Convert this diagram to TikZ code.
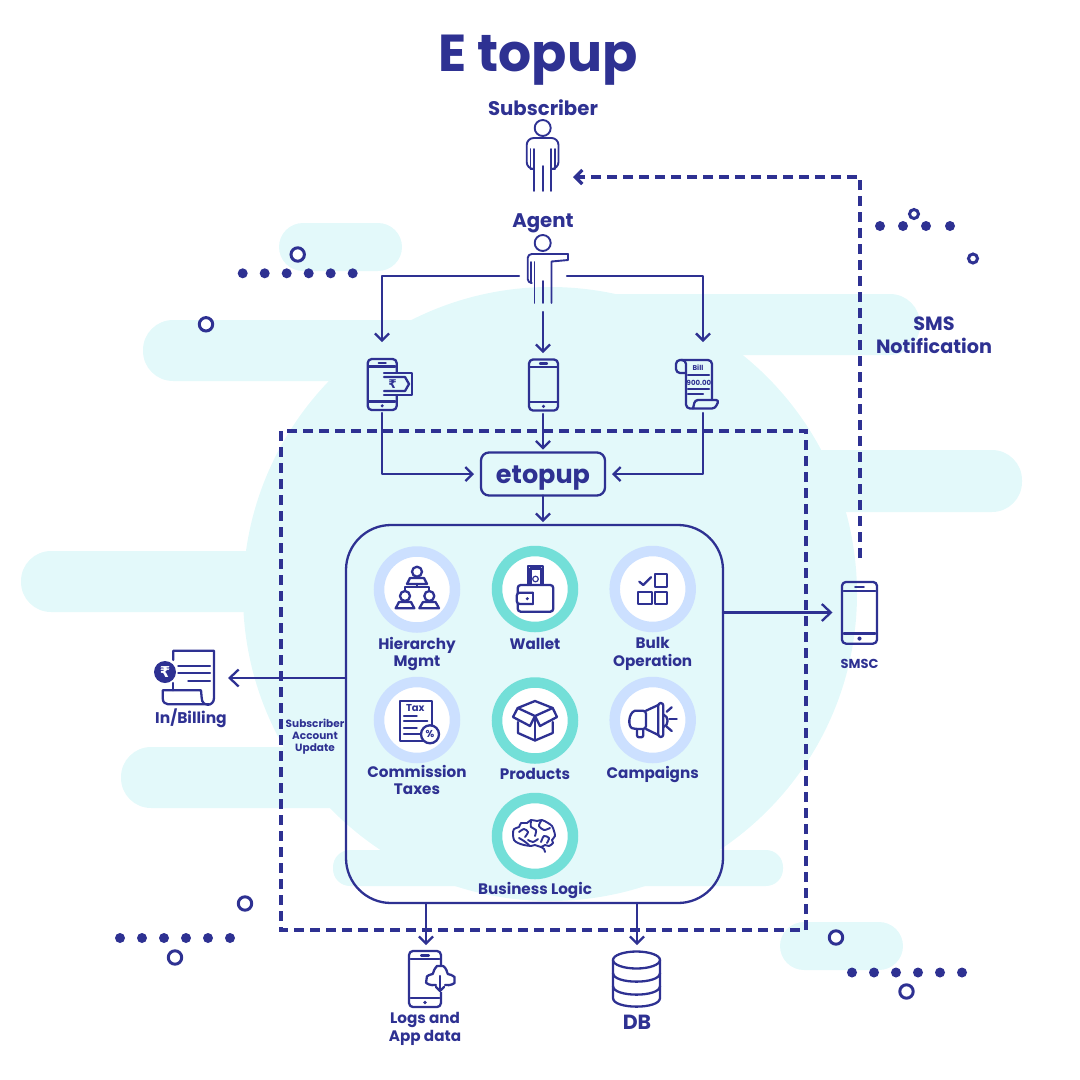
\documentclass[tikz,border=0pt]{standalone}
\usepackage{fontspec}
\setmainfont{Poppins}
\newfontfamily\symfont{DejaVu Sans}
\usetikzlibrary{arrows.meta}

\definecolor{navy}{HTML}{2E3192}
\definecolor{blob}{HTML}{E3F9FA}
\definecolor{ringblue}{HTML}{CCE0FF}
\definecolor{ringteal}{HTML}{73DFD8}

\newcommand{\labelsize}[2]{\bfseries\fontsize{#1}{#2}\selectfont}

\tikzset{
    lab/.style={text=navy, align=center, inner sep=0pt, font=\labelsize{15.2}{17.8}},
    hold/.style={inner sep=0pt, outer sep=0pt},
    line/.style={navy, line width=2.3pt, line cap=round, line join=round},
    figure/.style={navy, line width=1.9pt, line cap=round, line join=round},
    flow/.style={line, -{Straight Barb[length=7pt,width=14pt,line width=2.3pt]}},
    sideflow/.style={line, -{Straight Barb[length=9pt,width=17pt,line width=2.3pt]}},
    box/.style={dash pattern=on 10pt off 6pt, navy, line width=3.2pt},
    backfill/.style={fill=blob, rounded corners=#1},
    bluering/.style={draw=ringblue, fill=white, line width=10.5pt},
    tealring/.style={draw=ringteal, fill=white, line width=10.5pt},
    rounddot/.style={fill=navy},
    hollowdot/.style={draw=navy, fill=white, line width=3pt},
    handset/.pic={
        \draw[line, rounded corners=4pt] (-14.5,-25.5) rectangle (14.5,25.5);
        \draw[line] (-13,-18) -- (13,-18);
        \draw[line] (-3.5,-21.5) -- (3.5,-21.5);
        \draw[line] (-13,17) -- (13,17);
        \fill[navy] (0,21.3) circle [radius=1.7];
    }
}

\begin{document}
\begin{tikzpicture}[x=1pt, y=-1pt]
            \useasboundingbox (0,0) rectangle (1080,1080);

            \fill[blob] (550,594) circle [radius=307];
            \fill[backfill=24pt] (279,223) rectangle (402,271);
            \fill[backfill=30pt] (143,320) rectangle (470,381);
            \fill[backfill=30pt] (590,294) rectangle (920,355);
            \fill[backfill=30pt] (770,450) rectangle (1022,512);
            \fill[backfill=30pt] (21,551) rectangle (310,612);
            \fill[backfill=30pt] (121,747) rectangle (410,808);
            \fill[backfill=17pt] (333,850) rectangle (783,886);
            \fill[backfill=24pt] (780,922) rectangle (903,970);

            \fill[rounddot] (242.7,273.3) circle [radius=5] (264.7,273.3) circle [radius=5] (286.7,273.3) circle [radius=5] (308.7,273.3) circle [radius=5] (330.7,273.3) circle [radius=5] (352.7,273.3) circle [radius=5];
            \fill[rounddot] (880,226) circle [radius=5] (903,226) circle [radius=5] (926,226) circle [radius=5] (950,226) circle [radius=5];
            \fill[rounddot] (120,938) circle [radius=5] (142,938) circle [radius=5] (164,938) circle [radius=5] (186,938) circle [radius=5] (208,938) circle [radius=5] (230,938) circle [radius=5];
            \fill[rounddot] (852,972.5) circle [radius=5] (874,972.5) circle [radius=5] (896,972.5) circle [radius=5] (918,972.5) circle [radius=5] (940,972.5) circle [radius=5] (962,972.5) circle [radius=5];
            \draw[hollowdot] (297.7,254.5) circle [radius=6.7];
            \draw[hollowdot] (206,324.3) circle [radius=6.7];
            \draw[hollowdot] (914,214) circle [radius=4.5];
            \draw[hollowdot] (973,258.5) circle [radius=4.5];
            \draw[hollowdot] (245,903.5) circle [radius=6.7];
            \draw[hollowdot] (175,957.5) circle [radius=6.7];
            \draw[hollowdot] (836,937.5) circle [radius=6.7];
            \draw[hollowdot] (906.5,991.5) circle [radius=6.7];

            \node[lab, font=\labelsize{52}{52}] (title) at (538,60) {E topup};
            \node[lab, font=\labelsize{19.7}{22}] (sublabel) at (543,108) {Subscriber};
            \node[lab, font=\labelsize{19.7}{22}] (agentlabel) at (543,223) {Agent};
            \node[lab, font=\labelsize{19.2}{23}] (smslabel) at (934,335) {SMS\\Notification};

            \node[hold, minimum width=60pt, minimum height=28pt] (subscriber) at (543,177) {};
            \node[hold, minimum width=48pt, minimum height=72pt] (agent) at (543,276) {};
            \node[hold, minimum width=58pt, minimum height=71pt] (paying) at (382,377.5) {};
            \node[hold, minimum width=29pt, minimum height=61pt] (phone) at (543,383.5) {};
            \node[hold, minimum width=44pt, minimum height=71pt] (bill) at (703,377.5) {};
            \node[draw=navy, line width=2.3pt, rounded corners=8pt, text=navy, inner sep=0pt, outer xsep=7pt, outer ysep=0pt, minimum width=124pt, minimum height=43pt, text height=23pt, text depth=5pt, font=\labelsize{25.5}{27}] (etopup) at (543,474) {etopup};
            \node[draw=navy, line width=2.3pt, rounded corners=45pt, inner sep=0pt, outer sep=0pt, minimum width=377pt, minimum height=378pt] (platform) at (534.5,714) {};
            \node[hold, minimum width=55pt, minimum height=109pt] (smsc) at (860,612.5) {};
            \node[hold, minimum width=74pt, minimum height=56pt] (billing) at (191,678) {};
            \node[hold, minimum width=34pt, minimum height=62pt] (logs) at (426,976) {};
            \node[hold, minimum width=48pt, minimum height=62pt] (db) at (637,976) {};

            \draw[box] (281,431) rectangle (806,930);

            \draw[flow] (agent.west) -| (paying.north);
            \draw[flow] (agent.south) -- (phone.north);
            \draw[flow] (agent.east) -| (bill.north);
            \draw[flow] (paying.south) |- (etopup.west);
            \draw[flow, shorten >=3pt] (phone.south) -- (etopup.north);
            \draw[flow] (bill.south) |- (etopup.east);
            \draw[flow, shorten >=3pt] (etopup.south) -- (etopup.south |- platform.north);
            \draw[sideflow] (smsc.west -| platform.east) -- (smsc.west);
            \draw[sideflow] (platform.west |- billing.east) -- (billing.east);
            \draw[flow] (logs.north |- platform.south) -- (logs.north);
            \draw[flow] (db.north |- platform.south) -- (db.north);
            \draw[box, -{Straight Barb[length=7pt,width=14pt,line width=3.2pt]}] (smsc.north) |- (subscriber.east);

            \draw[figure] (542.7,128) circle [radius=8];
            \draw[figure, rounded corners=7pt] (530.5,169) -- (526.7,169) -- (526.7,138) -- (558.5,138) -- (558.5,169) -- (554.7,169);
            \draw[figure] (530.5,149) -- (530.5,169);
            \draw[figure] (554.7,149) -- (554.7,169);
            \draw[figure] (534,149) -- (534,191);
            \draw[figure] (542.7,166) -- (542.7,191);
            \draw[figure] (551.3,149) -- (551.3,191);

            \draw[figure] (542.7,243) circle [radius=8];
            \draw[figure, rounded corners=4pt] (531,283) -- (527.7,283) -- (527.7,254) -- (568,254);
            \draw[figure] (568,254) -- (568,260) -- (551.5,261.5) -- (551.5,303);
            \draw[figure] (531,262) -- (531,283);
            \draw[figure] (534.5,262) -- (534.5,303);
            \draw[figure] (542.7,281) -- (542.7,303);

            \pic at (382.2,384.5) {handset};
            \fill[blob] (384,374) rectangle (398,394);
            \draw[line] (384,373) -- (411.7,373) -- (411.7,395) -- (384,395);
            \draw[line] (384,377) -- (405,377) -- (409,384) -- (405,391) -- (384,391);
            \node[lab, font=\symfont\bfseries\fontsize{12}{12}\selectfont] (rupeenote) at (392.5,384) {₹};

            \pic at (543.5,385) {handset};

            \draw[line, rounded corners=4pt] (686,373) -- (676,373) -- (676,360) -- (712,360) -- (712,400);
            \draw[line, rounded corners=4pt] (681,360) -- (686,360) -- (686,408.5) -- (693,408.5);
            \draw[line, rounded corners=3pt] (693,408.5) -- (715,408.5) -- (719,400) -- (695,400) -- (693,408.5);
            \draw[line] (688,375) -- (709,375);
            \draw[line] (688,389) -- (709,389);
            \draw[line] (688,394) -- (703,394);
            \node[lab, font=\labelsize{7}{7}] (billword) at (698,368) {Bill};
            \node[lab, font=\labelsize{7}{7}] (billsum) at (699,383) {900.00};

            \pic[scale=1.21] at (859.5,612.8) {handset};
            \node[lab, font=\labelsize{13}{13}] (smsclabel) at (859.5,663.5) {SMSC};

            \draw[line] (173.3,660) -- (173.3,650.7) -- (214,650.7) -- (214,698) .. controls (214,707) and (201.7,707) .. (201.7,698) -- (201,690.3) -- (162.7,690.3) -- (162.7,698) .. controls (162.7,702) and (165,704.3) .. (168,704.3) -- (209,704.3);
            \draw[line] (173.3,683) -- (173.3,690.3);
            \draw[line] (178.3,665.7) -- (210,665.7);
            \draw[line] (178.3,673.3) -- (210,673.3);
            \draw[line] (188.3,681) -- (210,681);
            \fill[navy] (165,672) circle [radius=11];
            \node[text=white, inner sep=0pt, font=\symfont\bfseries\fontsize{15}{15}\selectfont] (rupeecoin) at (165,672) {₹};
            \node[lab, font=\labelsize{15.5}{20}] (billinglabel) at (191,718) {In/Billing};

            \node[lab, font=\labelsize{10.5}{12}] (accountlabel) at (315,737) {Subscriber\\Account\\Update};

            \draw[bluering] (417,589.5) circle [radius=38];
            \draw[tealring] (535,589) circle [radius=38];
            \draw[bluering] (652.7,589) circle [radius=38];
            \draw[bluering] (417,720) circle [radius=38];
            \draw[tealring] (535,720.5) circle [radius=38];
            \draw[bluering] (652.7,720) circle [radius=38];
            \draw[tealring] (535,836) circle [radius=38];

            \draw[line] (417,571.7) circle [radius=5];
            \draw[line] (410,578) -- (424,578) -- (427,584) -- (407,584) -- cycle;
            \draw[line] (417,584) -- (417,587);
            \draw[line] (405,591) -- (405,587) -- (429.3,587) -- (429.3,591);
            \draw[line] (405,596) circle [radius=5];
            \draw[line] (429.3,596) circle [radius=5];
            \draw[line] (399,602) -- (411,602) -- (414.3,608.3) -- (395.7,608.3) -- cycle;
            \draw[line] (423,602) -- (435.5,602) -- (439,608.3) -- (419.3,608.3) -- cycle;

            \draw[line] (528.3,585) -- (528.3,565.7) -- (543.3,565.7) -- (543.3,585);
            \draw[line] (530.5,585) -- (530.5,568.5) -- (541,568.5) -- (541,585);
            \draw[line, line width=1.2pt] (535.5,579) circle [radius=2.8];
            \draw[line, rounded corners=3pt] (517.7,592.7) -- (517.7,585) -- (553.3,585) -- (553.3,611.7) -- (517.7,611.7) -- (517.7,604);
            \draw[line, rounded corners=3pt] (532.7,592.7) -- (516.7,592.7) -- (516.7,604) -- (532.7,604);
            \draw[line] (532.7,592.7) -- (532.7,604);
            \fill[navy] (527.3,598.7) circle [radius=1.7];

            \draw[line] (639.3,581.7) -- (643.3,585) -- (651,577.3);
            \draw[line] (655,574.3) rectangle (667.3,587.3);
            \draw[line] (638.3,591.7) rectangle (651.7,604);
            \draw[line] (655,591.7) rectangle (667.3,604);

            \draw[line] (400,701) rectangle (431.7,740.7);
            \draw[line] (404,716) -- (416.7,716);
            \draw[line] (404,720.7) -- (427.3,720.7);
            \draw[line] (404,728.3) -- (416.7,728.3);
            \draw[line] (404,734) -- (420,734);
            \draw[line, fill=white] (430,734.3) circle [radius=9];
            \node[lab, font=\labelsize{10}{10}] (taxword) at (415.3,708.5) {Tax};
            \node[lab, font=\labelsize{10}{10}] (percent) at (430,734.3) {\%};

            \draw[line] (517.7,708) -- (535,701) -- (552.7,708) -- (535,716) -- cycle;
            \draw[line] (517.7,708) -- (513,717) -- (530,726) -- (535,716) -- (540,726) -- (557,717) -- (552.7,708);
            \draw[line] (518,722) -- (518,733) -- (535,740.5) -- (552.7,733) -- (552.7,722);
            \draw[line] (535,716) -- (535,740.5);

            \draw[line, rounded corners=3pt] (635,710.7) -- (646,710.7) -- (646,729) -- (635,729) .. controls (628,727) and (628,713) .. (635,710.7);
            \draw[line] (646,710.7) -- (658.3,705);
            \draw[line] (646,729) -- (658.3,735);
            \draw[line, rounded corners=2.5pt] (658.3,703) rectangle (663.3,737);
            \draw[line, rounded corners=2pt] (637,729) -- (637,737.3) -- (643.3,737.3) -- (643.3,729);
            \draw[line] (663.3,714.5) .. controls (669,716) and (669,726) .. (663.3,727);
            \draw[line] (666.7,711.7) -- (671.7,707.3);
            \draw[line] (669.3,719.3) -- (676.7,719.3);
            \draw[line] (666.7,726.7) -- (671.7,731);

            \draw[figure, smooth cycle] plot coordinates {(513,834) (514,829) (519,827) (521,823) (527,823) (531,820) (537,821) (542,820) (548,823) (552,826) (554,831) (555,836) (552,840) (553,843) (549,846) (545,845) (541,847) (535,845) (531,846) (524,845) (518,843) (514,840)};
            \draw[figure, smooth] plot coordinates {(519,832) (524,829) (528,832) (525,837)};
            \draw[figure, smooth] plot coordinates {(531,821) (531,827) (536,830) (535,836)};
            \draw[figure, smooth] plot coordinates {(541,821) (539,826) (544,830) (550,828)};
            \draw[figure, smooth] plot coordinates {(519,838) (524,841) (529,845)};
            \draw[figure, smooth] plot coordinates {(528,840) (533,842) (538,839)};
            \draw[figure, smooth] plot coordinates {(541,842) (544,836) (549,838) (547,843)};
            \draw[figure, smooth] plot coordinates {(541,847) (544,849) (545,852)};

            \node[lab] (hierarchylabel) at (417,654) {Hierarchy\\Mgmt};
            \node[lab] (walletlabel) at (535,644) {Wallet};
            \node[lab] (bulklabel) at (652.7,654) {Bulk\\Operation};
            \node[lab] (commissionlabel) at (417,780) {Commission\\Taxes};
            \node[lab] (productslabel) at (535,774) {Products};
            \node[lab] (campaignslabel) at (652.7,774) {Campaigns};
            \node[lab] (logiclabel) at (535,890) {Business Logic};

            \pic[scale=1.1] at (425,979) {handset};
            \fill[white] (430,966) rectangle (445,992);
            \draw[line, fill=white, rounded corners=3pt] (436,985) .. controls (430,986) and (426,983) .. (426.5,979.5) .. controls (427,976) and (430,974.5) .. (433.5,975) .. controls (433.5,970) and (437,966) .. (440,966) .. controls (444,966) and (447,970) .. (447,975) .. controls (451,974.5) and (454.5,977) .. (454.5,980) .. controls (454.5,983) and (451,986) .. (445,985);
            \draw[line] (440,976) -- (440,991);
            \draw[line] (436,987) -- (440,991) -- (444,987);
            \node[lab] (logslabel) at (425,1029) {Logs and\\App data};

            \draw[line] (636.5,960) ellipse [x radius=23.5, y radius=8.5];
            \draw[line] (613,960) -- (613,998) .. controls (613,1009.5) and (660,1009.5) .. (660,998) -- (660,960);
            \draw[line] (613,973) .. controls (613,984.5) and (660,984.5) .. (660,973);
            \draw[line] (613,986) .. controls (613,997.5) and (660,997.5) .. (660,986);
            \node[lab, font=\labelsize{20.5}{22}] (dblabel) at (637,1022) {DB};
\end{tikzpicture}
\end{document}
